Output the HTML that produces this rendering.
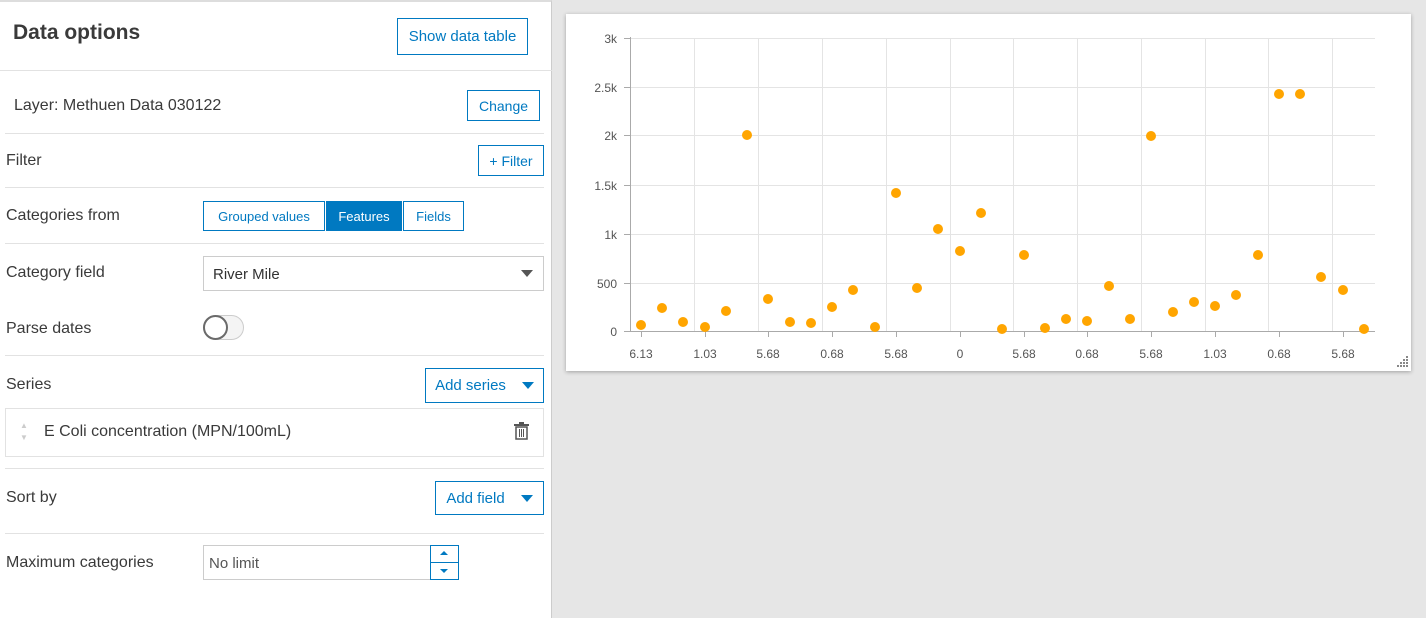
<!DOCTYPE html><html><head><meta charset="utf-8"><style>
*{box-sizing:border-box}body{margin:0;width:1426px;height:618px;overflow:hidden;background:#e6e6e6;font-family:"Liberation Sans",sans-serif;color:#323232;position:relative}
.p{position:absolute;left:0;top:0;width:552px;height:618px;background:#fff;border-right:1px solid #ccc;border-top:2px solid #ddd}
.a{position:absolute}
.l{font-size:16px;color:#3a3a3a}
.hr{position:absolute;left:5px;width:539px;height:1px;background:#e2e2e2}
.b{position:absolute;border:1px solid #0079c1;color:#0079c1;font-size:14px;display:flex;align-items:center;justify-content:center;background:#fff}
.tri{display:inline-block;width:0;height:0;border-left:6px solid transparent;border-right:6px solid transparent;border-top:7px solid #0079c1;margin-left:16px}
</style></head><body>
<div class="p"></div>
<div class="a" style="left:13px;top:21px;font-size:21px;font-weight:bold;color:#3a3a3a">Data options</div>
<div class="b" style="left:397px;top:18px;width:131px;height:37px;font-size:15px">Show data table</div>
<div class="a" style="left:0;top:70px;width:552px;height:1px;background:#e2e2e2"></div>
<div class="a l" style="left:14px;top:97px">Layer: Methuen Data 030122</div>
<div class="b" style="left:467px;top:90px;width:73px;height:31px;font-size:14px">Change</div>
<div class="hr" style="top:133px"></div>
<div class="a l" style="left:6px;top:152px">Filter</div>
<div class="b" style="left:478px;top:145px;width:66px;height:31px;font-size:14px">+ Filter</div>
<div class="hr" style="top:187px"></div>
<div class="a l" style="left:6px;top:207px">Categories from</div>
<div class="b" style="left:203px;top:201px;width:122px;height:30px;font-size:13px">Grouped values</div>
<div class="b" style="left:326px;top:201px;width:76px;height:30px;font-size:13px;background:#0079c1;color:#fff">Features</div>
<div class="b" style="left:403px;top:201px;width:61px;height:30px;font-size:13px">Fields</div>
<div class="hr" style="top:243px"></div>
<div class="a l" style="left:6px;top:264px">Category field</div>
<div class="a" style="left:203px;top:256px;width:341px;height:35px;border:1px solid #ccc;font-size:15px;padding:9px 0 0 9px">River Mile</div>
<div class="a" style="left:521px;top:270px;border-left:6px solid transparent;border-right:6px solid transparent;border-top:7px solid #555"></div>
<div class="a l" style="left:6px;top:320px">Parse dates</div>
<div class="a" style="left:203px;top:315px;width:41px;height:25px;border:1px solid #ccc;border-radius:13px;background:#f4f4f4"></div>
<div class="a" style="left:203px;top:315px;width:25px;height:25px;border:2px solid #6a6a6a;border-radius:50%;background:#fff"></div>
<div class="hr" style="top:355px"></div>
<div class="a l" style="left:6px;top:376px">Series</div>
<div class="b" style="left:425px;top:368px;width:119px;height:35px;font-size:15px">Add series<span class="tri"></span></div>
<div class="a" style="left:5px;top:408px;width:539px;height:49px;border:1px solid #e2e2e2"></div>
<div class="a" style="left:20px;top:420px;font-size:8px;color:#ccc;line-height:12px">▲<br>▼</div>
<div class="a l" style="left:44px;top:423px">E Coli concentration (MPN/100mL)</div>
<svg class="a" style="left:514px;top:422px" width="15" height="18"><rect x="0" y="2" width="15" height="2" fill="#555"/><rect x="5" y="0" width="5" height="2" fill="#555"/><rect x="2" y="5" width="11" height="12" fill="none" stroke="#555" stroke-width="1.5"/><line x1="5.5" y1="7" x2="5.5" y2="15" stroke="#555"/><line x1="7.5" y1="7" x2="7.5" y2="15" stroke="#555"/><line x1="9.5" y1="7" x2="9.5" y2="15" stroke="#555"/></svg>
<div class="hr" style="top:468px"></div>
<div class="a l" style="left:6px;top:489px">Sort by</div>
<div class="b" style="left:435px;top:481px;width:109px;height:34px;font-size:15px">Add field<span class="tri"></span></div>
<div class="hr" style="top:533px"></div>
<div class="a l" style="left:6px;top:554px">Maximum categories</div>
<div class="a" style="left:203px;top:545px;width:229px;height:35px;border:1px solid #ccc;font-size:15px;padding:9px 0 0 5px;color:#555">No limit</div>
<div class="a" style="left:430px;top:545px;width:29px;height:35px;border:1px solid #0079c1;background:#fff"></div>
<div class="a" style="left:430px;top:562px;width:29px;height:1px;background:#0079c1"></div>
<div class="a" style="left:440px;top:551px;border-left:4px solid transparent;border-right:4px solid transparent;border-bottom:4px solid #0079c1"></div>
<div class="a" style="left:440px;top:569px;border-left:4px solid transparent;border-right:4px solid transparent;border-top:4px solid #0079c1"></div>
<div class="a" style="left:566px;top:14px;width:845px;height:357px;background:#fff;box-shadow:0 1px 4px rgba(0,0,0,.3)"></div>
<svg class="a" style="left:0;top:0" width="1426" height="618" font-family="Liberation Sans, sans-serif" font-size="12" fill="#555">
<g stroke="#e4e4e4" stroke-width="1">
<line x1="630" y1="38.5" x2="1375" y2="38.5"/><line x1="630" y1="87.5" x2="1375" y2="87.5"/><line x1="630" y1="135.5" x2="1375" y2="135.5"/><line x1="630" y1="185.5" x2="1375" y2="185.5"/><line x1="630" y1="234.5" x2="1375" y2="234.5"/><line x1="630" y1="283.5" x2="1375" y2="283.5"/>
<line x1="694.5" y1="38" x2="694.5" y2="331"/><line x1="758.5" y1="38" x2="758.5" y2="331"/><line x1="822.5" y1="38" x2="822.5" y2="331"/><line x1="886.5" y1="38" x2="886.5" y2="331"/><line x1="950.5" y1="38" x2="950.5" y2="331"/><line x1="1013.5" y1="38" x2="1013.5" y2="331"/><line x1="1077.5" y1="38" x2="1077.5" y2="331"/><line x1="1141.5" y1="38" x2="1141.5" y2="331"/><line x1="1205.5" y1="38" x2="1205.5" y2="331"/><line x1="1268.5" y1="38" x2="1268.5" y2="331"/><line x1="1332.5" y1="38" x2="1332.5" y2="331"/>
</g>
<g stroke="#aaa"><line x1="630.5" y1="37" x2="630.5" y2="332"/><line x1="624" y1="331.5" x2="1375" y2="331.5"/>
<line x1="624" y1="38.5" x2="630" y2="38.5"/><line x1="624" y1="87.5" x2="630" y2="87.5"/><line x1="624" y1="135.5" x2="630" y2="135.5"/><line x1="624" y1="185.5" x2="630" y2="185.5"/><line x1="624" y1="234.5" x2="630" y2="234.5"/><line x1="624" y1="283.5" x2="630" y2="283.5"/>
<line x1="641.5" y1="331" x2="641.5" y2="337"/><line x1="705.5" y1="331" x2="705.5" y2="337"/><line x1="768.5" y1="331" x2="768.5" y2="337"/><line x1="832.5" y1="331" x2="832.5" y2="337"/><line x1="896.5" y1="331" x2="896.5" y2="337"/><line x1="960.5" y1="331" x2="960.5" y2="337"/><line x1="1024.5" y1="331" x2="1024.5" y2="337"/><line x1="1087.5" y1="331" x2="1087.5" y2="337"/><line x1="1151.5" y1="331" x2="1151.5" y2="337"/><line x1="1215.5" y1="331" x2="1215.5" y2="337"/><line x1="1279.5" y1="331" x2="1279.5" y2="337"/><line x1="1343.5" y1="331" x2="1343.5" y2="337"/></g>
<g text-anchor="end"><text x="617" y="43">3k</text><text x="617" y="92">2.5k</text><text x="617" y="140">2k</text><text x="617" y="190">1.5k</text><text x="617" y="239">1k</text><text x="617" y="288">500</text><text x="617" y="336">0</text></g>
<g text-anchor="middle"><text x="641" y="358">6.13</text><text x="705" y="358">1.03</text><text x="768" y="358">5.68</text><text x="832" y="358">0.68</text><text x="896" y="358">5.68</text><text x="960" y="358">0</text><text x="1024" y="358">5.68</text><text x="1087" y="358">0.68</text><text x="1151" y="358">5.68</text><text x="1215" y="358">1.03</text><text x="1279" y="358">0.68</text><text x="1343" y="358">5.68</text></g>
<g fill="#ffa500">
<circle cx="641" cy="325" r="5"/><circle cx="662" cy="308" r="5"/><circle cx="683" cy="322" r="5"/><circle cx="705" cy="327" r="5"/><circle cx="726" cy="311" r="5"/><circle cx="747" cy="135" r="5"/><circle cx="768" cy="299" r="5"/><circle cx="790" cy="322" r="5"/><circle cx="811" cy="323" r="5"/><circle cx="832" cy="307" r="5"/><circle cx="853" cy="290" r="5"/><circle cx="875" cy="327" r="5"/><circle cx="896" cy="193" r="5"/><circle cx="917" cy="288" r="5"/><circle cx="938" cy="229" r="5"/><circle cx="960" cy="251" r="5"/><circle cx="981" cy="213" r="5"/><circle cx="1002" cy="329" r="5"/><circle cx="1024" cy="255" r="5"/><circle cx="1045" cy="328" r="5"/><circle cx="1066" cy="319" r="5"/><circle cx="1087" cy="321" r="5"/><circle cx="1109" cy="286" r="5"/><circle cx="1130" cy="319" r="5"/><circle cx="1151" cy="136" r="5"/><circle cx="1173" cy="312" r="5"/><circle cx="1194" cy="302" r="5"/><circle cx="1215" cy="306" r="5"/><circle cx="1236" cy="295" r="5"/><circle cx="1258" cy="255" r="5"/><circle cx="1279" cy="94" r="5"/><circle cx="1300" cy="94" r="5"/><circle cx="1321" cy="277" r="5"/><circle cx="1343" cy="290" r="5"/><circle cx="1364" cy="329" r="5"/>
</g>
<g fill="#888"><rect x="1406" y="356" width="2" height="2"/><rect x="1403" y="359" width="2" height="2"/><rect x="1406" y="359" width="2" height="2"/><rect x="1400" y="362" width="2" height="2"/><rect x="1403" y="362" width="2" height="2"/><rect x="1406" y="362" width="2" height="2"/><rect x="1397" y="365" width="2" height="2"/><rect x="1400" y="365" width="2" height="2"/><rect x="1403" y="365" width="2" height="2"/><rect x="1406" y="365" width="2" height="2"/></g>
</svg>
</body></html>
